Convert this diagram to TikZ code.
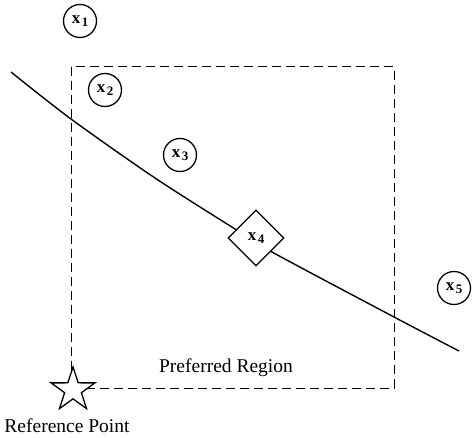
\documentclass[tikz,border=0pt]{standalone}
\usepackage{fontspec}
\setmainfont{Liberation Serif}
\usetikzlibrary{shapes.geometric}
\newcommand{\xlab}[1]{{\fontsize{17}{17}\selectfont\bfseries x\kern1.5pt\raisebox{-0.4ex}{\fontsize{13}{13}\selectfont #1}}}
\tikzset{
  pt/.style={draw, circle, line width=1.3pt, minimum size=33pt, inner sep=0pt},
  dpt/.style={draw, diamond, aspect=1, line width=1.3pt, minimum width=56pt, minimum height=56pt, inner sep=0pt, fill=white},
  region/.style={draw, line width=1pt, dash pattern=on 9pt off 5pt},
  lab/.style={font=\fontsize{19.5}{19.5}\selectfont, inner sep=0pt}
}
\begin{document}
\begin{tikzpicture}[x=1pt,y=-1pt]
\useasboundingbox (0,0) rectangle (474,438);
\path[region] (71,67) rectangle (394,388);
\draw[line width=1.4pt] plot[smooth, tension=0.5] coordinates {(11,72) (71,119) (155,178) (235,229) (272,252) (394,317) (459,351)};
\node[pt] (x1) at (80,21) {\xlab{1}};
\node[pt] (x2) at (105,90) {\xlab{2}};
\node[pt] (x3) at (180,155) {\xlab{3}};
\node[dpt] (x4) at (256,238) {\xlab{4}};
\node[pt] (x5) at (454,288) {\xlab{5}};
\node[star, star points=5, star point ratio=2.6, draw, line width=1.3pt, fill=white, minimum size=46pt, inner sep=0pt] (ref) at (73,390) {};
\node[lab] (reflab) at (67,426) {Reference Point};
\node[lab] (preflab) at (226,368) {Preferred Region};
\end{tikzpicture}
\end{document}
